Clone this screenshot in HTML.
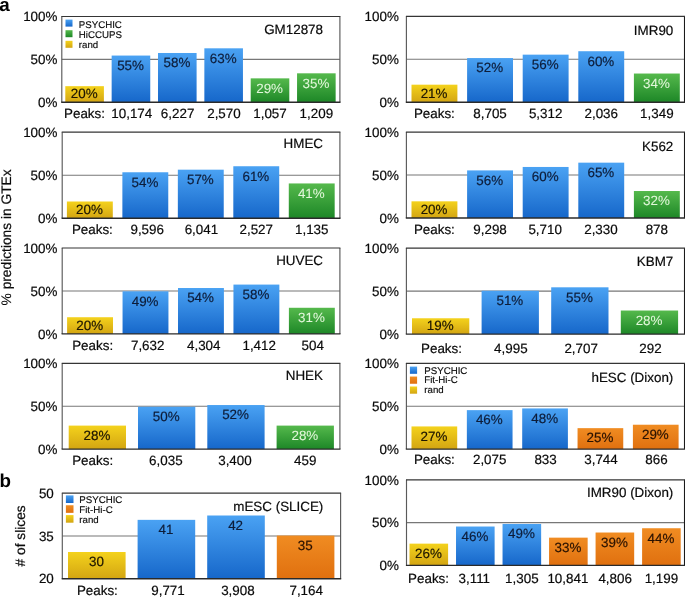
<!DOCTYPE html>
<html><head><meta charset="utf-8"><title>figure</title>
<style>
html,body{margin:0;padding:0;background:#fff;}
body{width:685px;height:597px;overflow:hidden;}
svg{display:block;text-rendering:geometricPrecision;filter:blur(0.3px);}
text{font-family:"Liberation Sans",Arial,Helvetica,sans-serif;fill:#0a0a0a;font-size:13.4px;stroke:#0a0a0a;stroke-width:0.2px;}
.bl{text-anchor:middle;}
.tk{text-anchor:end;}
.pn{text-anchor:middle;}
.tt{text-anchor:end;}
.lg{font-size:9.7px;stroke-width:0.15px;}
.pl{font-weight:bold;font-size:18.8px;fill:#000;stroke:none;}
.yl{text-anchor:middle;font-size:13.75px;}
.grid{stroke:#777;stroke-width:1.1;}
.fv{fill:none;stroke:#5a5a5a;stroke-width:1.15;}
.ft{stroke:#353535;stroke-width:1.2;}
.fr{fill:none;stroke:#1a1a1a;stroke-width:1.1;}
.axis{stroke:#2a2a2a;stroke-width:1.4;}
</style></head><body>
<svg width="685" height="597" viewBox="0 0 685 597">
<defs>
<linearGradient id="gb" x1="0" y1="0" x2="0" y2="1"><stop offset="0" stop-color="#4aa2f3"/><stop offset="1" stop-color="#1667ca"/></linearGradient>
<linearGradient id="gg" x1="0" y1="0" x2="0" y2="1"><stop offset="0" stop-color="#55b94c"/><stop offset="1" stop-color="#1d8727"/></linearGradient>
<linearGradient id="gy" x1="0" y1="0" x2="0" y2="1"><stop offset="0" stop-color="#f4d21c"/><stop offset="1" stop-color="#d3a512"/></linearGradient>
<linearGradient id="go" x1="0" y1="0" x2="0" y2="1"><stop offset="0" stop-color="#f08c22"/><stop offset="1" stop-color="#e0700f"/></linearGradient>
</defs>
<line x1="61.8" x2="339.9" y1="59.35" y2="59.35" class="grid"/>
<rect x="65.3" y="86.16" width="38.6" height="16.04" fill="url(#gy)"/>
<text x="84.2" y="98" class="bl" style="fill:#1e1600;stroke:#1e1600;stroke-width:0.2px">20%</text>
<rect x="111.65" y="55.56" width="38.6" height="46.64" fill="url(#gb)"/>
<text x="130.55" y="69.86" class="bl" style="fill:#0d1d3a;stroke:#0d1d3a;stroke-width:0.2px">55%</text>
<rect x="158" y="52.99" width="38.6" height="49.21" fill="url(#gb)"/>
<text x="176.9" y="67.29" class="bl" style="fill:#0d1d3a;stroke:#0d1d3a;stroke-width:0.2px">58%</text>
<rect x="204.35" y="48.31" width="38.6" height="53.89" fill="url(#gb)"/>
<text x="223.25" y="62.61" class="bl" style="fill:#0d1d3a;stroke:#0d1d3a;stroke-width:0.2px">63%</text>
<rect x="250.7" y="78.35" width="38.6" height="23.85" fill="url(#gg)"/>
<text x="269.6" y="92.65" class="bl" style="fill:#e2f7da;stroke:#e2f7da;stroke-width:0.05px">29%</text>
<rect x="297.05" y="73.31" width="38.6" height="28.89" fill="url(#gg)"/>
<text x="315.95" y="87.61" class="bl" style="fill:#e2f7da;stroke:#e2f7da;stroke-width:0.05px">35%</text>
<path d="M61.8 102.2V16.5" class="fv"/>
<path d="M339.9 16.5V102.2" class="fv"/>
<line x1="61.3" x2="340.4" y1="16.5" y2="16.5" class="ft"/>
<line x1="61.2" x2="340.5" y1="102.2" y2="102.2" class="axis"/>
<text x="57.4" y="21.25" class="tk">100%</text>
<text x="57.4" y="64.1" class="tk">50%</text>
<text x="57.4" y="106.95" class="tk">0%</text>
<text x="64" y="118.2" class="pk">Peaks:</text>
<text x="131.75" y="118.2" class="pn">10,174</text>
<text x="177.6" y="118.2" class="pn">6,227</text>
<text x="223.95" y="118.2" class="pn">2,570</text>
<text x="270" y="118.2" class="pn">1,057</text>
<text x="316.35" y="118.2" class="pn">1,209</text>
<text x="323" y="34.1" class="tt">GM12878</text>
<rect x="65.5" y="19.6" width="7" height="7" fill="url(#gb)"/>
<text x="78.8" y="27.7" class="lg">PSYCHIC</text>
<rect x="65.5" y="30.2" width="7" height="7" fill="url(#gg)"/>
<text x="78.8" y="37.65" class="lg">HiCCUPS</text>
<rect x="65.5" y="40.8" width="7" height="7" fill="url(#gy)"/>
<text x="78.8" y="47.6" class="lg">rand</text>
<line x1="62.2" x2="339.9" y1="175.2" y2="175.2" class="grid"/>
<rect x="66.9" y="201.5" width="45.9" height="16.7" fill="url(#gy)"/>
<text x="89.45" y="214" class="bl" style="fill:#1e1600;stroke:#1e1600;stroke-width:0.2px">20%</text>
<rect x="122.37" y="172.26" width="45.9" height="45.94" fill="url(#gb)"/>
<text x="144.92" y="186.56" class="bl" style="fill:#0d1d3a;stroke:#0d1d3a;stroke-width:0.2px">54%</text>
<rect x="177.84" y="169.68" width="45.9" height="48.52" fill="url(#gb)"/>
<text x="200.39" y="183.98" class="bl" style="fill:#0d1d3a;stroke:#0d1d3a;stroke-width:0.2px">57%</text>
<rect x="233.31" y="166.24" width="45.9" height="51.96" fill="url(#gb)"/>
<text x="255.86" y="180.54" class="bl" style="fill:#0d1d3a;stroke:#0d1d3a;stroke-width:0.2px">61%</text>
<rect x="288.78" y="183.44" width="45.9" height="34.76" fill="url(#gg)"/>
<text x="311.33" y="197.74" class="bl" style="fill:#e2f7da;stroke:#e2f7da;stroke-width:0.05px">41%</text>
<path d="M62.2 218.2V132.2" class="fv"/>
<path d="M339.9 132.2V218.2" class="fv"/>
<line x1="61.7" x2="340.4" y1="132.2" y2="132.2" class="ft"/>
<line x1="61.6" x2="340.5" y1="218.2" y2="218.2" class="axis"/>
<text x="57.4" y="136.95" class="tk">100%</text>
<text x="57.4" y="179.95" class="tk">50%</text>
<text x="57.4" y="222.95" class="tk">0%</text>
<text x="71.9" y="234.4" class="pk">Peaks:</text>
<text x="147.22" y="234.4" class="pn">9,596</text>
<text x="201.39" y="234.4" class="pn">6,041</text>
<text x="256.26" y="234.4" class="pn">2,527</text>
<text x="311.73" y="234.4" class="pn">1,135</text>
<text x="323" y="148.3" class="tt">HMEC</text>
<line x1="62.2" x2="339.9" y1="290.95" y2="290.95" class="grid"/>
<rect x="67.1" y="317.22" width="45.9" height="16.68" fill="url(#gy)"/>
<text x="89.65" y="329.7" class="bl" style="fill:#1e1600;stroke:#1e1600;stroke-width:0.2px">20%</text>
<rect x="122.55" y="291.31" width="45.9" height="42.59" fill="url(#gb)"/>
<text x="145.1" y="305.61" class="bl" style="fill:#0d1d3a;stroke:#0d1d3a;stroke-width:0.2px">49%</text>
<rect x="178" y="288.01" width="45.9" height="45.89" fill="url(#gb)"/>
<text x="200.55" y="302.31" class="bl" style="fill:#0d1d3a;stroke:#0d1d3a;stroke-width:0.2px">54%</text>
<rect x="233.45" y="284.58" width="45.9" height="49.32" fill="url(#gb)"/>
<text x="256" y="298.88" class="bl" style="fill:#0d1d3a;stroke:#0d1d3a;stroke-width:0.2px">58%</text>
<rect x="288.9" y="307.77" width="45.9" height="26.13" fill="url(#gg)"/>
<text x="311.45" y="322.07" class="bl" style="fill:#e2f7da;stroke:#e2f7da;stroke-width:0.05px">31%</text>
<path d="M62.2 333.9V248" class="fv"/>
<path d="M339.9 248V333.9" class="fv"/>
<line x1="61.7" x2="340.4" y1="248" y2="248" class="ft"/>
<line x1="61.6" x2="340.5" y1="333.9" y2="333.9" class="axis"/>
<text x="57.4" y="252.75" class="tk">100%</text>
<text x="57.4" y="295.7" class="tk">50%</text>
<text x="57.4" y="338.65" class="tk">0%</text>
<text x="72.2" y="349.6" class="pk">Peaks:</text>
<text x="147.7" y="349.6" class="pn">7,632</text>
<text x="203.75" y="349.6" class="pn">4,304</text>
<text x="259.2" y="349.6" class="pn">1,412</text>
<text x="312.75" y="349.6" class="pn">504</text>
<text x="323" y="265.2" class="tt">HUVEC</text>
<line x1="62.2" x2="339.9" y1="406.25" y2="406.25" class="grid"/>
<rect x="68.7" y="425.6" width="57.3" height="23.5" fill="url(#gy)"/>
<text x="96.95" y="439.9" class="bl" style="fill:#1e1600;stroke:#1e1600;stroke-width:0.2px">28%</text>
<rect x="138" y="406.75" width="57.3" height="42.35" fill="url(#gb)"/>
<text x="166.25" y="421.05" class="bl" style="fill:#0d1d3a;stroke:#0d1d3a;stroke-width:0.2px">50%</text>
<rect x="207.3" y="405.04" width="57.3" height="44.06" fill="url(#gb)"/>
<text x="235.55" y="419.34" class="bl" style="fill:#0d1d3a;stroke:#0d1d3a;stroke-width:0.2px">52%</text>
<rect x="276.6" y="425.6" width="57.3" height="23.5" fill="url(#gg)"/>
<text x="304.85" y="439.9" class="bl" style="fill:#e2f7da;stroke:#e2f7da;stroke-width:0.05px">28%</text>
<path d="M62.2 449.1V363.4" class="fv"/>
<path d="M339.9 363.4V449.1" class="fv"/>
<line x1="61.7" x2="340.4" y1="363.4" y2="363.4" class="ft"/>
<line x1="61.6" x2="340.5" y1="449.1" y2="449.1" class="axis"/>
<text x="57.4" y="368.15" class="tk">100%</text>
<text x="57.4" y="411" class="tk">50%</text>
<text x="57.4" y="453.85" class="tk">0%</text>
<text x="72.2" y="464.6" class="pk">Peaks:</text>
<text x="165.85" y="464.6" class="pn">6,035</text>
<text x="234.95" y="464.6" class="pn">3,400</text>
<text x="305.25" y="464.6" class="pn">459</text>
<text x="323" y="380.2" class="tt">NHEK</text>
<line x1="62.3" x2="340.6" y1="535.95" y2="535.95" class="grid"/>
<rect x="68" y="552" width="57.6" height="26.7" fill="url(#gy)"/>
<text x="96.4" y="566.3" class="bl" style="fill:#1e1600;stroke:#1e1600;stroke-width:0.2px">30</text>
<rect x="137.6" y="519.85" width="57.6" height="58.85" fill="url(#gb)"/>
<text x="166" y="534.15" class="bl" style="fill:#0d1d3a;stroke:#0d1d3a;stroke-width:0.2px">41</text>
<rect x="207.2" y="515.5" width="57.6" height="63.2" fill="url(#gb)"/>
<text x="235.6" y="529.8" class="bl" style="fill:#0d1d3a;stroke:#0d1d3a;stroke-width:0.2px">42</text>
<rect x="276.8" y="535.55" width="57.6" height="43.15" fill="url(#go)"/>
<text x="305.2" y="549.85" class="bl" style="fill:#2a1200;stroke:#2a1200;stroke-width:0.2px">35</text>
<path d="M62.3 578.7V493.2" class="fv"/>
<path d="M340.6 493.2V578.7" class="fv"/>
<line x1="61.8" x2="341.1" y1="493.2" y2="493.2" class="ft"/>
<line x1="61.7" x2="341.2" y1="578.7" y2="578.7" class="axis"/>
<text x="53.8" y="497.95" class="tk">50</text>
<text x="53.8" y="540.7" class="tk">35</text>
<text x="53.8" y="583.45" class="tk">20</text>
<text x="76.9" y="595.2" class="pk">Peaks:</text>
<text x="168" y="595.2" class="pn">9,771</text>
<text x="237.9" y="595.2" class="pn">3,908</text>
<text x="306.2" y="595.2" class="pn">7,164</text>
<text x="323.3" y="510.8" class="tt">mESC (SLICE)</text>
<rect x="65.9" y="495.4" width="7.6" height="7.6" fill="url(#gb)"/>
<text x="79.3" y="503.1" class="lg">PSYCHIC</text>
<rect x="65.9" y="505.25" width="7.6" height="7.6" fill="url(#go)"/>
<text x="79.3" y="512.95" class="lg">Fit-Hi-C</text>
<rect x="65.9" y="515.1" width="7.6" height="7.6" fill="url(#gy)"/>
<text x="79.3" y="522.8" class="lg">rand</text>
<line x1="406.4" x2="684.5" y1="59.3" y2="59.3" class="grid"/>
<rect x="411.5" y="84.68" width="45.9" height="17.52" fill="url(#gy)"/>
<text x="434.05" y="98" class="bl" style="fill:#1e1600;stroke:#1e1600;stroke-width:0.2px">21%</text>
<rect x="467.1" y="58.08" width="45.9" height="44.12" fill="url(#gb)"/>
<text x="489.65" y="72.38" class="bl" style="fill:#0d1d3a;stroke:#0d1d3a;stroke-width:0.2px">52%</text>
<rect x="522.7" y="54.65" width="45.9" height="47.55" fill="url(#gb)"/>
<text x="545.25" y="68.95" class="bl" style="fill:#0d1d3a;stroke:#0d1d3a;stroke-width:0.2px">56%</text>
<rect x="578.3" y="51.22" width="45.9" height="50.98" fill="url(#gb)"/>
<text x="600.85" y="65.52" class="bl" style="fill:#0d1d3a;stroke:#0d1d3a;stroke-width:0.2px">60%</text>
<rect x="633.9" y="73.53" width="45.9" height="28.67" fill="url(#gg)"/>
<text x="656.45" y="87.83" class="bl" style="fill:#e2f7da;stroke:#e2f7da;stroke-width:0.05px">34%</text>
<path d="M406.4 102.2V16.4" class="fv"/>
<path d="M684.5 16.4V102.2" class="fr"/>
<line x1="405.9" x2="685" y1="16.4" y2="16.4" class="ft"/>
<line x1="405.8" x2="685.1" y1="102.2" y2="102.2" class="axis"/>
<text x="398.8" y="21.15" class="tk">100%</text>
<text x="398.8" y="64.05" class="tk">50%</text>
<text x="398.8" y="106.95" class="tk">0%</text>
<text x="413.9" y="117.6" class="pk">Peaks:</text>
<text x="490.05" y="117.6" class="pn">8,705</text>
<text x="545.65" y="117.6" class="pn">5,312</text>
<text x="601.25" y="117.6" class="pn">2,036</text>
<text x="656.85" y="117.6" class="pn">1,349</text>
<text x="673.3" y="35.4" class="tt">IMR90</text>
<line x1="406.4" x2="684.5" y1="175.05" y2="175.05" class="grid"/>
<rect x="411.5" y="201.32" width="45.9" height="16.68" fill="url(#gy)"/>
<text x="434.05" y="213.8" class="bl" style="fill:#1e1600;stroke:#1e1600;stroke-width:0.2px">20%</text>
<rect x="467.1" y="170.4" width="45.9" height="47.6" fill="url(#gb)"/>
<text x="489.65" y="184.7" class="bl" style="fill:#0d1d3a;stroke:#0d1d3a;stroke-width:0.2px">56%</text>
<rect x="522.7" y="166.96" width="45.9" height="51.04" fill="url(#gb)"/>
<text x="545.25" y="181.26" class="bl" style="fill:#0d1d3a;stroke:#0d1d3a;stroke-width:0.2px">60%</text>
<rect x="578.3" y="162.66" width="45.9" height="55.34" fill="url(#gb)"/>
<text x="600.85" y="176.97" class="bl" style="fill:#0d1d3a;stroke:#0d1d3a;stroke-width:0.2px">65%</text>
<rect x="633.9" y="191.01" width="45.9" height="26.99" fill="url(#gg)"/>
<text x="656.45" y="205.31" class="bl" style="fill:#e2f7da;stroke:#e2f7da;stroke-width:0.05px">32%</text>
<path d="M406.4 218V132.1" class="fv"/>
<path d="M684.5 132.1V218" class="fr"/>
<line x1="405.9" x2="685" y1="132.1" y2="132.1" class="ft"/>
<line x1="405.8" x2="685.1" y1="218" y2="218" class="axis"/>
<text x="398.8" y="136.85" class="tk">100%</text>
<text x="398.8" y="179.8" class="tk">50%</text>
<text x="398.8" y="222.75" class="tk">0%</text>
<text x="413.9" y="233.8" class="pk">Peaks:</text>
<text x="490.05" y="233.8" class="pn">9,298</text>
<text x="545.15" y="233.8" class="pn">5,710</text>
<text x="600.95" y="233.8" class="pn">2,330</text>
<text x="656.85" y="233.8" class="pn">878</text>
<text x="673.3" y="151" class="tt">K562</text>
<line x1="406.4" x2="684.5" y1="291.1" y2="291.1" class="grid"/>
<rect x="412" y="318.26" width="57.3" height="15.84" fill="url(#gy)"/>
<text x="440.25" y="329.9" class="bl" style="fill:#1e1600;stroke:#1e1600;stroke-width:0.2px">19%</text>
<rect x="481.6" y="290.74" width="57.3" height="43.36" fill="url(#gb)"/>
<text x="509.85" y="305.04" class="bl" style="fill:#0d1d3a;stroke:#0d1d3a;stroke-width:0.2px">51%</text>
<rect x="551.2" y="287.3" width="57.3" height="46.8" fill="url(#gb)"/>
<text x="579.45" y="301.6" class="bl" style="fill:#0d1d3a;stroke:#0d1d3a;stroke-width:0.2px">55%</text>
<rect x="620.8" y="310.52" width="57.3" height="23.58" fill="url(#gg)"/>
<text x="649.05" y="324.82" class="bl" style="fill:#e2f7da;stroke:#e2f7da;stroke-width:0.05px">28%</text>
<path d="M406.4 334.1V248.1" class="fv"/>
<path d="M684.5 248.1V334.1" class="fr"/>
<line x1="405.9" x2="685" y1="248.1" y2="248.1" class="ft"/>
<line x1="405.8" x2="685.1" y1="334.1" y2="334.1" class="axis"/>
<text x="398.8" y="252.85" class="tk">100%</text>
<text x="398.8" y="295.85" class="tk">50%</text>
<text x="398.8" y="338.85" class="tk">0%</text>
<text x="421" y="352.9" class="pk">Peaks:</text>
<text x="510.85" y="352.9" class="pn">4,995</text>
<text x="581.15" y="352.9" class="pn">2,707</text>
<text x="650.45" y="352.9" class="pn">292</text>
<text x="673.3" y="266.4" class="tt">KBM7</text>
<line x1="406.4" x2="684.5" y1="406.2" y2="406.2" class="grid"/>
<rect x="411.5" y="426.43" width="45.7" height="22.67" fill="url(#gy)"/>
<text x="433.95" y="440.73" class="bl" style="fill:#1e1600;stroke:#1e1600;stroke-width:0.2px">27%</text>
<rect x="466.85" y="410.13" width="45.7" height="38.97" fill="url(#gb)"/>
<text x="489.3" y="424.43" class="bl" style="fill:#0d1d3a;stroke:#0d1d3a;stroke-width:0.2px">46%</text>
<rect x="522.2" y="408.42" width="45.7" height="40.68" fill="url(#gb)"/>
<text x="544.65" y="422.72" class="bl" style="fill:#0d1d3a;stroke:#0d1d3a;stroke-width:0.2px">48%</text>
<rect x="577.55" y="428.15" width="45.7" height="20.95" fill="url(#go)"/>
<text x="600" y="442.45" class="bl" style="fill:#2a1200;stroke:#2a1200;stroke-width:0.2px">25%</text>
<rect x="632.9" y="424.72" width="45.7" height="24.38" fill="url(#go)"/>
<text x="655.35" y="439.02" class="bl" style="fill:#2a1200;stroke:#2a1200;stroke-width:0.2px">29%</text>
<path d="M406.4 449.1V363.3" class="fv"/>
<path d="M684.5 363.3V449.1" class="fr"/>
<line x1="405.9" x2="685" y1="363.3" y2="363.3" class="ft"/>
<line x1="405.8" x2="685.1" y1="449.1" y2="449.1" class="axis"/>
<text x="398.8" y="368.05" class="tk">100%</text>
<text x="398.8" y="410.95" class="tk">50%</text>
<text x="398.8" y="453.85" class="tk">0%</text>
<text x="413.9" y="464" class="pk">Peaks:</text>
<text x="489.7" y="464" class="pn">2,075</text>
<text x="545.55" y="464" class="pn">833</text>
<text x="601" y="464" class="pn">3,744</text>
<text x="656.45" y="464" class="pn">866</text>
<text x="673.3" y="382.2" class="tt">hESC (Dixon)</text>
<rect x="409.9" y="366.6" width="7.2" height="7.2" fill="url(#gb)"/>
<text x="424.3" y="373.6" class="lg">PSYCHIC</text>
<rect x="409.9" y="376.55" width="7.2" height="7.2" fill="url(#go)"/>
<text x="424.3" y="383.45" class="lg">Fit-Hi-C</text>
<rect x="409.9" y="386.5" width="7.2" height="7.2" fill="url(#gy)"/>
<text x="424.3" y="393.3" class="lg">rand</text>
<line x1="406.5" x2="684.5" y1="522.6" y2="522.6" class="grid"/>
<rect x="409.5" y="543.64" width="38.6" height="21.76" fill="url(#gy)"/>
<text x="428.4" y="557.94" class="bl" style="fill:#1e1600;stroke:#1e1600;stroke-width:0.2px">26%</text>
<rect x="456.02" y="526.52" width="38.6" height="38.88" fill="url(#gb)"/>
<text x="474.92" y="540.82" class="bl" style="fill:#0d1d3a;stroke:#0d1d3a;stroke-width:0.2px">46%</text>
<rect x="502.54" y="523.96" width="38.6" height="41.44" fill="url(#gb)"/>
<text x="521.44" y="538.26" class="bl" style="fill:#0d1d3a;stroke:#0d1d3a;stroke-width:0.2px">49%</text>
<rect x="549.06" y="537.65" width="38.6" height="27.75" fill="url(#go)"/>
<text x="567.96" y="551.95" class="bl" style="fill:#2a1200;stroke:#2a1200;stroke-width:0.2px">33%</text>
<rect x="595.58" y="532.52" width="38.6" height="32.88" fill="url(#go)"/>
<text x="614.48" y="546.82" class="bl" style="fill:#2a1200;stroke:#2a1200;stroke-width:0.2px">39%</text>
<rect x="642.1" y="528.24" width="38.6" height="37.16" fill="url(#go)"/>
<text x="661" y="542.54" class="bl" style="fill:#2a1200;stroke:#2a1200;stroke-width:0.2px">44%</text>
<path d="M406.5 565.4V479.8" class="fv"/>
<path d="M684.5 479.8V565.4" class="fr"/>
<line x1="406" x2="685" y1="479.8" y2="479.8" class="ft"/>
<line x1="405.9" x2="685.1" y1="565.4" y2="565.4" class="axis"/>
<text x="398.8" y="484.55" class="tk">100%</text>
<text x="398.8" y="527.35" class="tk">50%</text>
<text x="398.8" y="570.15" class="tk">0%</text>
<text x="408.1" y="582.6" class="pk">Peaks:</text>
<text x="474.32" y="582.6" class="pn">3,111</text>
<text x="521.84" y="582.6" class="pn">1,305</text>
<text x="567.86" y="582.6" class="pn">10,841</text>
<text x="615.18" y="582.6" class="pn">4,806</text>
<text x="661.4" y="582.6" class="pn">1,199</text>
<text x="673.3" y="497.4" class="tt">IMR90 (Dixon)</text>
<text x="-0.7" y="10.6" class="pl">a</text>
<text x="-0.6" y="487.3" class="pl">b</text>
<text transform="translate(10.5 237.4) rotate(-90)" class="yl">% predictions in GTEx</text>
<text transform="translate(25.1 535.9) rotate(-90)" class="yl"># of slices</text>
</svg>
</body></html>
